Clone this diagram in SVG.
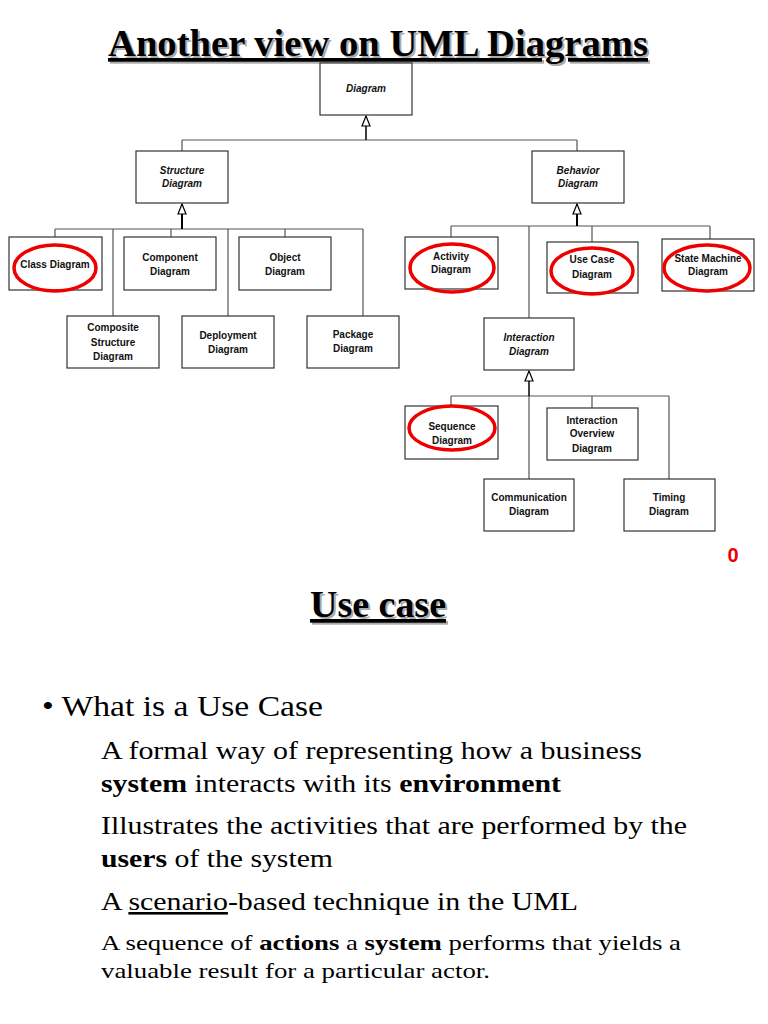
<svg xmlns="http://www.w3.org/2000/svg" width="768" height="1024" viewBox="0 0 768 1024">
<style>
.b{fill:#fff;stroke:#333;stroke-width:1.2}
.t{font-family:"Liberation Sans",Arial,sans-serif;font-size:10px;font-weight:bold;text-anchor:middle;fill:#111}
.i{font-style:italic}
.c{stroke:#555;stroke-width:1.2;fill:none}
.r{fill:none;stroke:#e00;stroke-width:3.5}
.h{font-family:"Liberation Serif","Times New Roman",serif;font-weight:bold;font-size:37px;text-anchor:middle;text-decoration:underline;fill:#000}
.s{font-family:"Liberation Serif","Times New Roman",serif;font-size:26px;fill:#000}
</style>
<defs>
<marker id="tri" markerWidth="10" markerHeight="12" refX="5" refY="1" orient="0" markerUnits="userSpaceOnUse" viewBox="0 0 10 12">
<path d="M5,1 L9,11 L1,11 Z" fill="#fff" stroke="#000" stroke-width="1.2"/>
</marker>
</defs>
<rect width="768" height="1024" fill="#fff"/>
<text x="380" y="58" class="h" style="fill:#aaa" textLength="540" lengthAdjust="spacingAndGlyphs">Another view on UML Diagrams</text>
<text x="378" y="56" class="h" textLength="540" lengthAdjust="spacingAndGlyphs">Another view on UML Diagrams</text>
<g id="connectors">
<path class="c" d="M182,140 H577 M366,140 V116 M182,140 V151 M577,140 V151"/>
<path class="c" d="M55,229 H363 M55,229 V237 M113,229 V316 M171,229 V237 M228,229 V316 M285,229 V237 M363,229 V316"/>
<path d="M182,229 V204" stroke="#000" stroke-width="2" marker-end="url(#tri)"/>
<path class="c" d="M451,226 H710 M451,226 V237 M529,226 V318 M592,226 V242 M710,226 V239"/>
<path d="M577,226 V204" stroke="#000" stroke-width="2" marker-end="url(#tri)"/>
<path class="c" d="M451,396 H669 M451,396 V406 M529,396 V479 M592,396 V408 M669,396 V479"/>
<path d="M529,396 V371" stroke="#000" stroke-width="1.5" marker-end="url(#tri)"/>
<path d="M366,140 V116" stroke="#000" stroke-width="1.2" marker-end="url(#tri)"/>
</g>
<g id="diagram"><rect class="b" x="320" y="63" width="92" height="52"/><text class="t i" x="366" y="92">Diagram</text></g>
<g id="structure"><rect class="b" x="136" y="151" width="92" height="52"/><text class="t i" x="182" y="174">Structure</text><text class="t i" x="182" y="187">Diagram</text></g>
<g id="behavior"><rect class="b" x="532" y="151" width="92" height="52"/><text class="t i" x="578" y="174">Behavior</text><text class="t i" x="578" y="187">Diagram</text></g>
<g id="class"><rect class="b" x="9" y="237" width="93" height="53"/><text class="t" x="55" y="268">Class Diagram</text><ellipse class="r" cx="55" cy="268" rx="41" ry="23"/></g>
<g id="component"><rect class="b" x="124" y="237" width="92" height="53"/><text class="t" x="170" y="261">Component</text><text class="t" x="170" y="275">Diagram</text></g>
<g id="object"><rect class="b" x="239" y="237" width="92" height="53"/><text class="t" x="285" y="261">Object</text><text class="t" x="285" y="275">Diagram</text></g>
<g id="composite"><rect class="b" x="67" y="316" width="92" height="52"/><text class="t" x="113" y="331">Composite</text><text class="t" x="113" y="346">Structure</text><text class="t" x="113" y="360">Diagram</text></g>
<g id="deployment"><rect class="b" x="182" y="316" width="92" height="52"/><text class="t" x="228" y="339">Deployment</text><text class="t" x="228" y="353">Diagram</text></g>
<g id="package"><rect class="b" x="307" y="316" width="92" height="52"/><text class="t" x="353" y="338">Package</text><text class="t" x="353" y="352">Diagram</text></g>
<g id="activity"><rect class="b" x="405" y="237" width="93" height="52"/><text class="t" x="451" y="260">Activity</text><text class="t" x="451" y="273">Diagram</text><ellipse class="r" cx="452" cy="268" rx="42" ry="24"/></g>
<g id="usecase"><rect class="b" x="547" y="242" width="91" height="51"/><text class="t" x="592" y="263">Use Case</text><text class="t" x="592" y="278">Diagram</text><ellipse class="r" cx="592" cy="271" rx="41" ry="23"/></g>
<g id="statemachine"><rect class="b" x="662" y="239" width="92" height="52"/><text class="t" x="708" y="262">State Machine</text><text class="t" x="708" y="275">Diagram</text><ellipse class="r" cx="707" cy="268" rx="43" ry="23"/></g>
<g id="interaction"><rect class="b" x="484" y="318" width="90" height="52"/><text class="t i" x="529" y="341">Interaction</text><text class="t i" x="529" y="355">Diagram</text></g>
<g id="sequence"><rect class="b" x="405" y="406" width="93" height="53"/><text class="t" x="452" y="430">Sequence</text><text class="t" x="452" y="444">Diagram</text><ellipse class="r" cx="452" cy="428" rx="43" ry="22"/></g>
<g id="overview"><rect class="b" x="547" y="408" width="91" height="52"/><text class="t" x="592" y="424">Interaction</text><text class="t" x="592" y="437">Overview</text><text class="t" x="592" y="452">Diagram</text></g>
<g id="communication"><rect class="b" x="484" y="479" width="90" height="52"/><text class="t" x="529" y="501">Communication</text><text class="t" x="529" y="515">Diagram</text></g>
<g id="timing"><rect class="b" x="624" y="479" width="91" height="52"/><text class="t" x="669" y="501">Timing</text><text class="t" x="669" y="515">Diagram</text></g>
<text x="733" y="562" font-family="Liberation Sans,Arial,sans-serif" font-weight="bold" font-size="20" fill="#e00" text-anchor="middle">0</text>
<text x="380" y="619" class="h" style="fill:#aaa" textLength="136" lengthAdjust="spacingAndGlyphs">Use case</text>
<text x="378" y="617" class="h" textLength="136" lengthAdjust="spacingAndGlyphs">Use case</text>
<text x="42" y="716" class="s" style="font-size:29px" textLength="281" lengthAdjust="spacingAndGlyphs">• What is a Use Case</text>
<text x="101" y="759" class="s" textLength="541" lengthAdjust="spacingAndGlyphs">A formal way of representing how a business</text>
<text x="101" y="792" class="s" textLength="460" lengthAdjust="spacingAndGlyphs"><tspan font-weight="bold">system</tspan> interacts with its <tspan font-weight="bold">environment</tspan></text>
<text x="101" y="834" class="s" textLength="586" lengthAdjust="spacingAndGlyphs">Illustrates the activities that are performed by the</text>
<text x="101" y="867" class="s" textLength="232" lengthAdjust="spacingAndGlyphs"><tspan font-weight="bold">users</tspan> of the system</text>
<text x="101" y="910" class="s" textLength="477" lengthAdjust="spacingAndGlyphs">A <tspan text-decoration="underline">scenario</tspan>-based technique in the UML</text>
<text x="101" y="950" class="s" style="font-size:22px" textLength="580" lengthAdjust="spacingAndGlyphs">A sequence of <tspan font-weight="bold">actions</tspan> a <tspan font-weight="bold">system</tspan> performs that yields a</text>
<text x="101" y="978" class="s" style="font-size:22px" textLength="389" lengthAdjust="spacingAndGlyphs">valuable result for a particular actor.</text>
</svg>
